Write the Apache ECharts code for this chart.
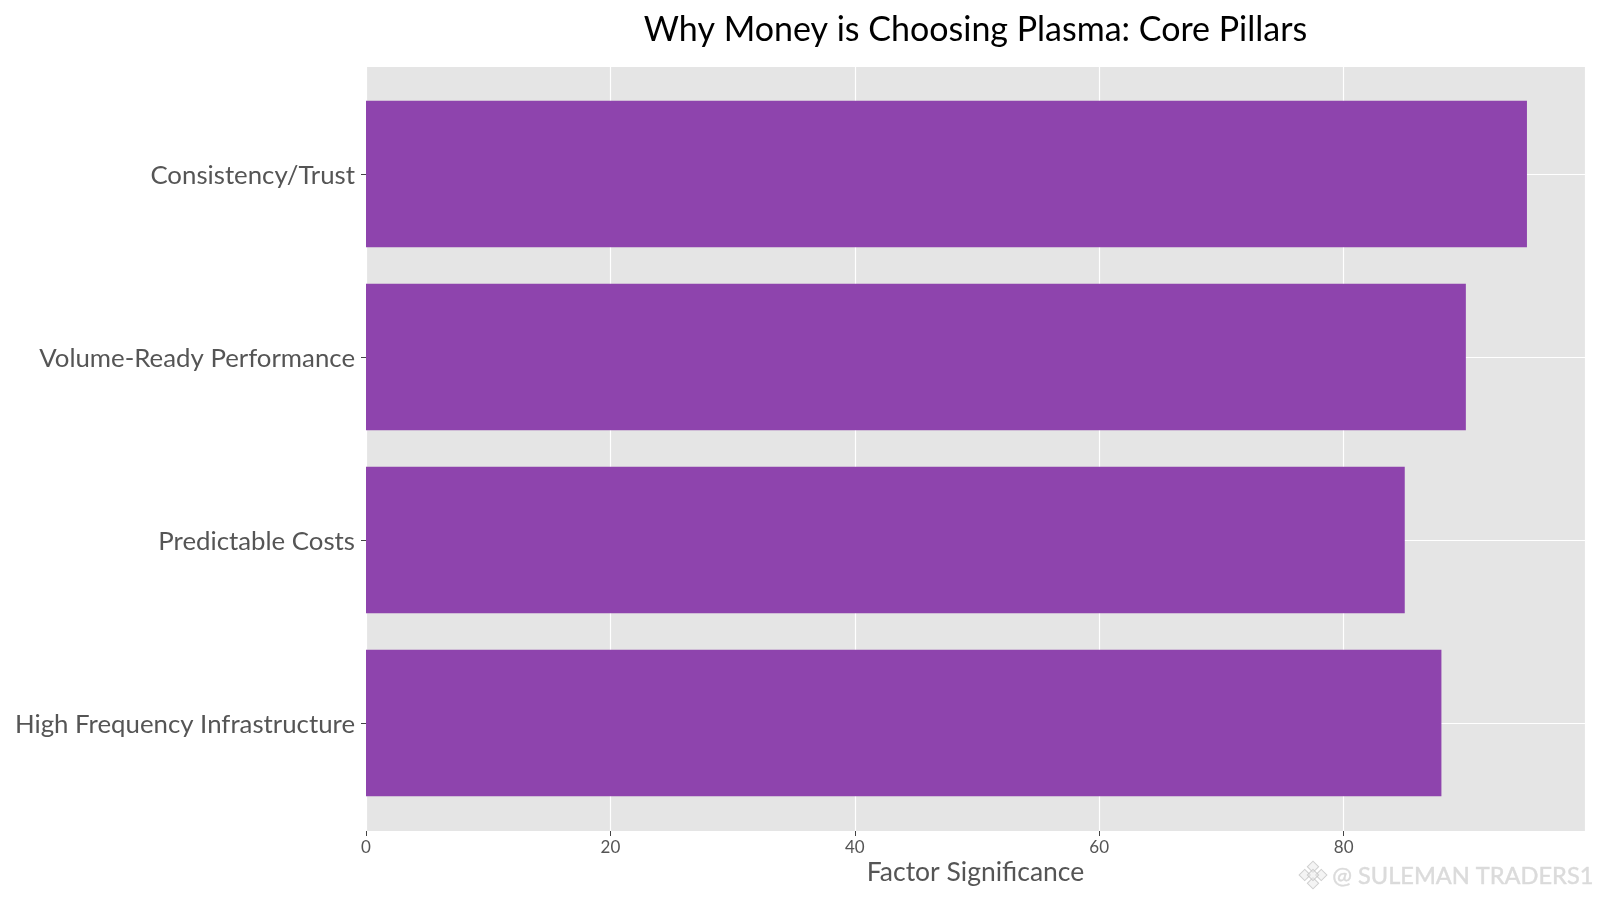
<!DOCTYPE html>
<html><head><meta charset="utf-8">
<style>html,body{margin:0;padding:0;background:#fff}#c{width:1600px;height:900px}</style>
<script src="https://cdn.jsdelivr.net/npm/echarts@6/dist/echarts.min.js"></script>
</head><body><div id="c"></div>
<script>
const categories = ["High Frequency Infrastructure", "Predictable Costs", "Volume-Ready Performance", "Consistency/Trust"];
const values = [88, 85, 90, 95];
const titleText = "Why Money is Choosing Plasma: Core Pillars";
const xName = "Factor Significance";
const watermark = "@ SULEMAN TRADERS1";
const xMax = 99.75;
const FONT = "Lato";
const chart = echarts.init(document.getElementById('c'), null, {renderer:'canvas'});
const logoCells = [[0,-11],[-11,0],[11,0],[0,11],[0,0]];
chart.setOption({
  animation:false,
  backgroundColor:'#fff',
  title:{text:titleText,left:970.5,top:8,textAlign:'center',
    textStyle:{fontFamily:FONT,fontSize:34,fontWeight:'normal',color:'#000'}},
  grid:[
    {left:366,top:67,width:1219,height:764,show:true,backgroundColor:'#e5e5e5',borderWidth:0,containLabel:false},
    {left:366,top:82.5,width:1219,height:732,show:false,containLabel:false}
  ],
  xAxis:[
    {gridIndex:0,type:'value',min:0,max:xMax,interval:20,
     name:xName,nameLocation:'middle',nameGap:28,nameMoveOverlap:false,
     nameTextStyle:{fontFamily:FONT,fontSize:26.5,color:'#555'},
     axisLine:{show:false},
     axisTick:{show:true,length:5,lineStyle:{color:'#444',width:1}},
     axisLabel:{fontFamily:FONT,fontSize:17,color:'#555',margin:8,
       showMaxLabel:false,formatter:v=>v>90?'':String(v)},
     splitLine:{show:true,lineStyle:{color:'#fff',width:1.2}}},
    {gridIndex:1,type:'value',min:0,max:xMax,show:false,splitLine:{show:false}}
  ],
  yAxis:[
    {gridIndex:0,type:'value',min:0,max:1,show:false,splitLine:{show:false}},
    {gridIndex:1,type:'category',data:categories,
     axisLine:{show:false},
     axisTick:{show:true,length:5,alignWithLabel:true,lineStyle:{color:'#444',width:1}},
     axisLabel:{margin:11,formatter:v=>'{a|'+v+'}',
       rich:{a:{fontFamily:FONT,fontSize:25.8,color:'#555',padding:[4,0,0,0]}}},
     splitLine:{show:true,alignWithLabel:true,lineStyle:{color:'#fff',width:1.2}}}
  ],
  series:[{type:'bar',xAxisIndex:1,yAxisIndex:1,data:values,barWidth:'80%',
    itemStyle:{color:'#8e44ad'},silent:true}],
  graphic:[
    {type:'group',x:1313,y:875,silent:true,children:logoCells.map(c=>({
      type:'rect',x:c[0]*0.75,y:c[1]*0.75,rotation:Math.PI/4,
      shape:{x:-4,y:-4,width:8,height:8},
      style:{fill:'rgba(235,235,235,0.55)',stroke:'rgba(190,190,190,0.7)',lineWidth:1}}))},
    {type:'text',left:1332,top:864,silent:true,
      style:{text:watermark,fontFamily:FONT,fontSize:23.6,fill:'rgba(215,215,215,0.9)',
        stroke:'rgba(170,170,170,0.35)',lineWidth:0.5}}
  ]
});
</script></body></html>
